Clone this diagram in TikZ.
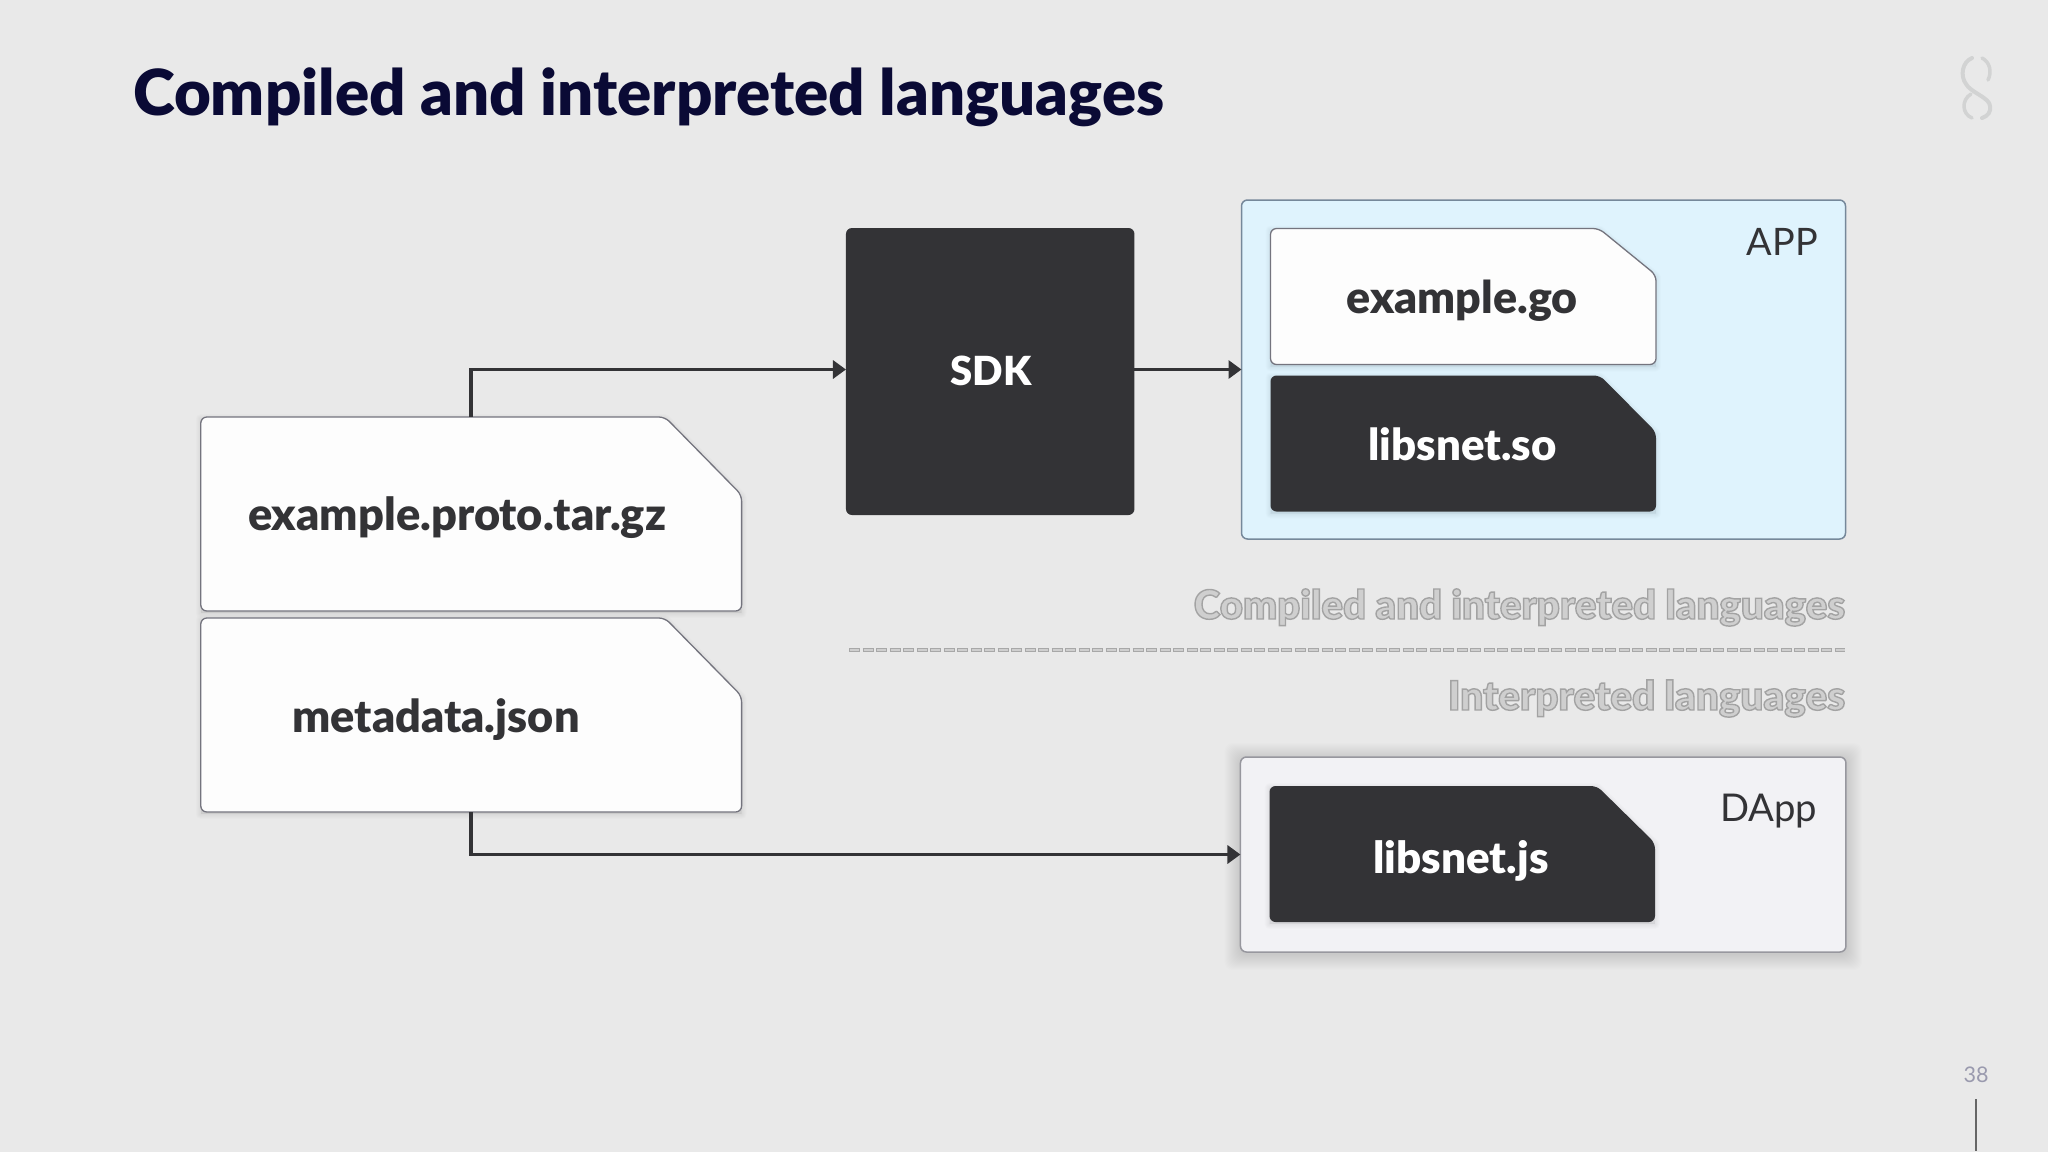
\documentclass[tikz,border=0pt]{standalone}
\usepackage{fontspec}
\usepackage{graphicx}
\setmainfont{Lato}[BoldFont={Lato Black}]
\usetikzlibrary{arrows.meta,calc}
\definecolor{bgc}{HTML}{E9E9E9}
\definecolor{navy}{HTML}{0A0A35}
\definecolor{ink}{HTML}{333336}
\definecolor{edge}{HTML}{74747E}
\definecolor{appfill}{HTML}{DFF3FD}
\definecolor{appedge}{HTML}{76889A}
\definecolor{dappfill}{HTML}{F2F2F5}
\definecolor{ghostfill}{HTML}{CFCFCF}
\definecolor{ghostedge}{HTML}{A8A8A8}
\definecolor{pagec}{HTML}{9A9AAE}
\definecolor{logoc}{HTML}{D2D3D3}
\newcommand{\fitw}[2]{\resizebox{#1pt}{!}{#2}}
\newcommand{\ghosttext}[1]{\textcolor{ghostfill}{\special{pdf:code q 2 Tr 0.64 G 0.35 w}#1\special{pdf:code Q}}}
\newcommand{\softshadow}[7]{%
  \foreach \i in {1,...,#5}{%
    \fill[black,opacity=#6,rounded corners=8pt] (#1-\i,#2-\i+#7) rectangle (#3+\i,#4+\i+#7);%
  }}
% file shape: #1 name, #2 x0, #3 y0, #4 x1, #5 y1, #6 cut x, #7 cut y, #8 style
\newcommand{\filebox}[8]{%
  \foreach \i in {2,4,...,10}{%
    \fill[black,opacity=0.012,draw=black,line width=\i pt,line join=round] (#2,#3+2) -- (#6,#3+2) -- (#4,#7+2) -- (#4,#5+2) -- (#2,#5+2) -- cycle;%
  }
  \path[#8,rounded corners=6pt] (#2,#3) -- (#6,#3) -- (#4,#7) -- (#4,#5) -- (#2,#5) -- cycle;
  \node[boxanchor,minimum width=#4pt-#2pt,minimum height=#5pt-#3pt] (#1) at ({(#2+#4)/2},{(#3+#5)/2}) {};%
}
\tikzset{
  x=1pt,y=-1pt,
  boxanchor/.style={inner sep=0pt,outer sep=0pt,shape=rectangle},
  lightfile/.style={draw=edge,line width=1.3pt,fill=white!92!bgc},
  darkfile/.style={fill=ink},
  conn/.style={draw=ink,line width=3.8pt,line join=miter,-{Triangle[length=13pt,width=18pt,fill=ink]}},
  label/.style={inner sep=0pt,outer sep=0pt,anchor=base west},
  labelright/.style={inner sep=0pt,outer sep=0pt,anchor=base east},
  strongtext/.style={label,text=ink,font=\bfseries},
  whitetext/.style={label,text=white,font=\bfseries},
  tagtext/.style={labelright,text=ink,font=\normalfont},
  ghost/.style={labelright,font=\bfseries},
}
\begin{document}
\begin{tikzpicture}
\useasboundingbox (0,0) rectangle (2048,1152);
\fill[bgc] (0,0) rectangle (2048,1152);

% title
\node[label,text=navy,font=\bfseries] (title) at (133,115) {\fitw{1031}{Compiled and interpreted languages}};

% logo
\draw[logoc,line width=4pt,line cap=round] (1972,58) .. controls (1962,62) and (1960,76) .. (1966,84)
  .. controls (1970,92) and (1990,98) .. (1990,106) .. controls (1991,112) and (1988,116) .. (1982,118);
\draw[logoc,line width=3.5pt,line cap=round] (1982,58) .. controls (1990,62) and (1992,72) .. (1988,80);
\draw[logoc,line width=3.5pt,line cap=round] (1971,94) .. controls (1961,100) and (1962,114) .. (1972,118);

% source files
\filebox{file1}{200.8}{417}{741.6}{611}{665}{495}{lightfile}
\node[strongtext] (file1label) at (248,530) {\fitw{418}{example.proto.tar.gz}};
\filebox{file2}{200.8}{618}{741.6}{812}{665}{696}{lightfile}
\node[strongtext] (file2label) at (292.5,732) {\fitw{287}{metadata.json}};

% SDK
\node[boxanchor,fill=ink,rounded corners=6pt,minimum width=288.5pt,minimum height=287pt] (sdk) at (990.2,371.5) {};
\node[whitetext] (sdklabel) at (950.5,385) {\fitw{81}{SDK}};

% APP
\node[boxanchor,draw=appedge,line width=1.5pt,fill=appfill,rounded corners=6pt,minimum width=604pt,minimum height=339pt] (app) at (1543.5,369.5) {};
\node[tagtext] (applabel) at (1818,255) {\fitw{71}{APP}};
\filebox{gofile}{1270.5}{228.5}{1656}{364.5}{1599}{275}{lightfile}
\node[strongtext] (golabel) at (1346.5,313) {\fitw{231}{example.go}};
\filebox{sofile}{1270.5}{375.5}{1656}{511.5}{1600}{432}{darkfile}
\node[whitetext] (solabel) at (1368.5,460) {\fitw{188}{libsnet.so}};

% section headings
\node[ghost] (ghost1) at (1845,619) {\fitw{651}{\ghosttext{Compiled and interpreted languages}}};
\coordinate (dashL) at (849,650);
\coordinate (dashR) at (1845,650);
\draw[ghostedge,line width=4.6pt,dash pattern=on 11pt off 2.5pt] (dashL) -- (dashR);
\draw[ghostfill,line width=2pt,dash pattern=on 9pt off 4.5pt,dash phase=-1pt] (dashL) -- (dashR);
\node[ghost] (ghost2) at (1845,710) {\fitw{397}{\ghosttext{Interpreted languages}}};

% DApp
\softshadow{1240.5}{757}{1846}{952}{16}{0.008}{2}
\node[boxanchor,draw=edge!70!bgc,line width=1.5pt,fill=dappfill,rounded corners=6pt,minimum width=605.5pt,minimum height=195pt] (dapp) at (1543.2,854.5) {};
\node[tagtext] (dapplabel) at (1817,821) {\fitw{97}{DApp}};
\filebox{jsfile}{1269.5}{786}{1655}{922}{1597}{843}{darkfile}
\node[whitetext] (jslabel) at (1373.5,873) {\fitw{175}{libsnet.js}};

% connectors
\draw[conn] (file1.north) |- (sdk.west |- app.west);
\draw[conn] (sdk.east |- app.west) -- (app.west);
\draw[conn] (file2.south) |- (dapp.west);

% page number
\node[labelright,text=pagec,font=\normalfont] (pagenum) at (1988.5,1082) {\fitw{25}{38}};
\coordinate (ruleTop) at (1976,1099);
\coordinate (ruleEnd) at (1976,1151);
\draw[black!60,line width=1.6pt] (ruleTop) -- (ruleEnd);
\end{tikzpicture}
\end{document}
